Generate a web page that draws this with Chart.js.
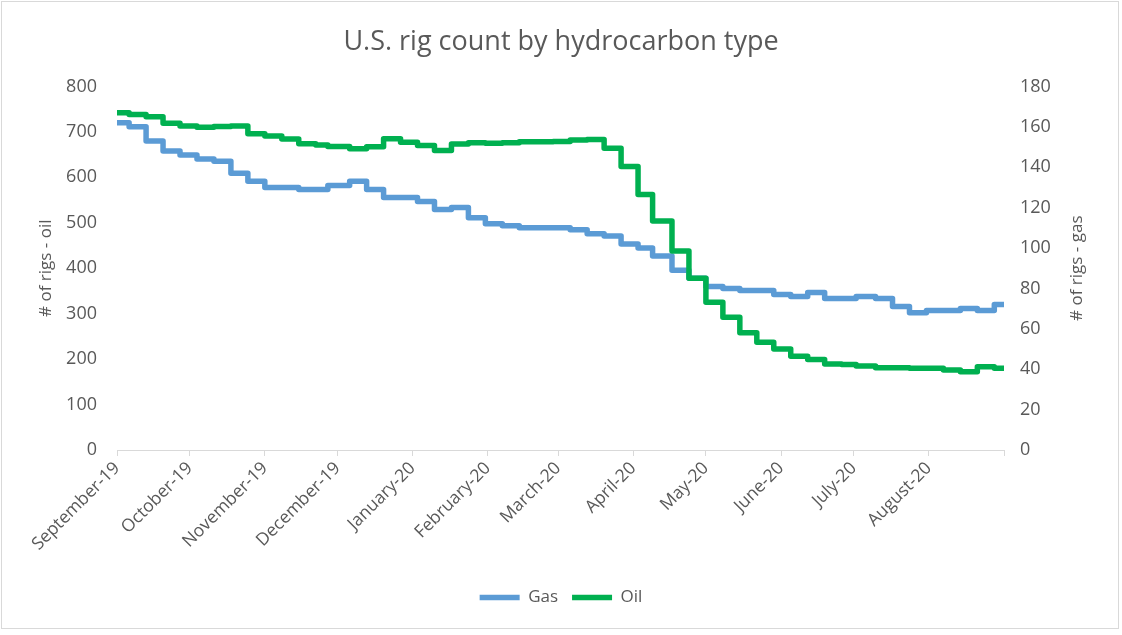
<!DOCTYPE html>
<html lang="en">
<head>
  <meta charset="UTF-8">
  <title>U.S. rig count by hydrocarbon type</title>
  <script src="https://cdn.jsdelivr.net/npm/chart.js"></script>
  <style>
    body { margin: 0; background: #fff; }
    #wrap { position: absolute; left: 0; top: 0; width: 1122px; height: 635px; }
    #frame {
      position: absolute; left: 1px; top: 1px; width: 1116px; height: 626px;
      border: 1px solid #d9d9d9; pointer-events: none;
    }
  </style>
</head>
<body>
  <div id="wrap"><canvas id="rigChart"></canvas></div>
  <div id="frame"></div>

  <script>
    // weekly Baker Hughes report dates
    const reportDates = [
      '2019-08-30','2019-09-06','2019-09-13','2019-09-20','2019-09-27',
      '2019-10-04','2019-10-11','2019-10-18','2019-10-25',
      '2019-11-01','2019-11-08','2019-11-15','2019-11-22','2019-11-27',
      '2019-12-06','2019-12-13','2019-12-20','2019-12-27',
      '2020-01-03','2020-01-10','2020-01-17','2020-01-24','2020-01-31',
      '2020-02-07','2020-02-14','2020-02-21','2020-02-28',
      '2020-03-06','2020-03-13','2020-03-20','2020-03-27',
      '2020-04-03','2020-04-09','2020-04-17','2020-04-24',
      '2020-05-01','2020-05-08','2020-05-15','2020-05-22','2020-05-29',
      '2020-06-05','2020-06-12','2020-06-19','2020-06-26',
      '2020-07-02','2020-07-10','2020-07-17','2020-07-24','2020-07-31',
      '2020-08-07','2020-08-14','2020-08-21','2020-08-28','2020-09-04'
    ];
    const oilRigs = [
      742, 738, 733, 719, 713,
      710, 712, 713, 696,
      691, 684, 674, 671, 668,
      663, 667, 685, 677,
      670, 659, 673, 676, 675,
      676, 678, 678, 679,
      682, 683, 664, 624,
      562, 504, 438, 378,
      325, 292, 258, 237, 222,
      206, 199, 189, 188,
      185, 181, 181, 180, 180,
      176, 172, 183, 180, 180
    ];
    const gasRigs = [
      162, 160, 153, 148, 146,
      144, 143, 137, 133,
      130, 130, 129, 129, 131,
      133, 129, 125, 125,
      123, 119, 120, 115, 112,
      111, 110, 110, 110,
      109, 107, 106, 102,
      100, 96, 89, 85,
      81, 80, 79, 79, 77,
      76, 78, 75, 75,
      76, 75, 71, 68, 69,
      69, 70, 69, 72, 72
    ];
    const monthTicks = [
      '2019-09-01','2019-10-01','2019-11-01','2019-12-01','2020-01-01','2020-02-01',
      '2020-03-01','2020-04-01','2020-05-01','2020-06-01','2020-07-01','2020-08-01','2020-09-01'
    ];
    const monthLabels = [
      'September-19','October-19','November-19','December-19','January-20','February-20',
      'March-20','April-20','May-20','June-20','July-20','August-20',''
    ];
    const oilTicks = [0, 100, 200, 300, 400, 500, 600, 700, 800];
    const gasTicks = [0, 20, 40, 60, 80, 100, 120, 140, 160, 180];

    const start = Date.UTC(2019, 8, 1);
    const dayOf = s => {
      const [y, m, d] = s.split('-').map(Number);
      return Math.round((Date.UTC(y, m - 1, d) - start) / 864e5);
    };
    const tickDays = monthTicks.map(dayOf);

    const grey = '#595959';
    const font = 'Open Sans, sans-serif';

    // right-hand title reads bottom-to-top like the left one
    const rightTitle = {
      id: 'rightTitle',
      afterDraw(chart) {
        const ctx = chart.ctx;
        const a = chart.chartArea;
        ctx.save();
        ctx.translate(1077, (a.top + a.bottom) / 2);
        ctx.rotate(-Math.PI / 2);
        ctx.font = '17px ' + font;
        ctx.fillStyle = grey;
        ctx.textAlign = 'center';
        ctx.textBaseline = 'middle';
        ctx.fillText('# of rigs - gas', 0, 0);
        ctx.restore();
      }
    };

    new Chart(document.getElementById('rigChart'), {
      type: 'line',
      data: {
        datasets: [
          {
            label: 'Oil',
            data: reportDates.map((d, i) => ({ x: dayOf(d), y: oilRigs[i] })),
            borderColor: '#00B050',
            backgroundColor: '#00B050',
            borderWidth: 5.5,
            stepped: true,
            pointRadius: 0,
            borderJoinStyle: 'round',
            clip: 0,
            yAxisID: 'y'
          },
          {
            label: 'Gas',
            data: reportDates.map((d, i) => ({ x: dayOf(d), y: gasRigs[i] })),
            borderColor: '#5B9BD5',
            backgroundColor: '#5B9BD5',
            borderWidth: 5.5,
            stepped: true,
            pointRadius: 0,
            borderJoinStyle: 'round',
            clip: 0,
            yAxisID: 'y1'
          }
        ]
      },
      options: {
        responsive: true,
        maintainAspectRatio: false,
        animation: false,
        layout: { padding: { left: 0, right: 0, top: 0, bottom: 19 } },
        plugins: {
          title: {
            display: true,
            text: 'U.S. rig count by hydrocarbon type',
            color: grey,
            font: { family: font, size: 27, weight: 'normal' },
            padding: { top: 26, bottom: 28 }
          },
          legend: {
            position: 'bottom',
            reverse: true,
            labels: {
              color: grey,
              font: { family: font, size: 17 },
              usePointStyle: true,
              pointStyle: 'line',
              pointStyleWidth: 40,
              padding: 14
            }
          },
          tooltip: { enabled: false }
        },
        scales: {
          x: {
            type: 'linear',
            min: tickDays[0],
            max: tickDays[tickDays.length - 1],
            afterBuildTicks: s => { s.ticks = tickDays.map(v => ({ value: v })); },
            afterFit: s => { s.height = 125; },
            grid: { drawOnChartArea: false, color: '#d9d9d9', tickLength: 6 },
            border: { color: '#d9d9d9' },
            ticks: {
              color: grey,
              font: { family: font, size: 17.5 },
              minRotation: 45,
              maxRotation: 45,
              autoSkip: false,
              padding: 2,
              callback: (v, i) => monthLabels[i]
            }
          },
          y: {
            position: 'left',
            min: 0,
            max: 800,
            afterBuildTicks: s => { s.ticks = oilTicks.map(v => ({ value: v })); },
            afterFit: s => { s.width = 117; },
            grid: { display: false, drawTicks: false },
            border: { display: false },
            ticks: { color: grey, font: { family: font, size: 18 }, padding: 20 },
            title: {
              display: true,
              text: '# of rigs - oil',
              color: grey,
              font: { family: font, size: 17 },
              padding: { top: 36 }
            }
          },
          y1: {
            position: 'right',
            min: 0,
            max: 180,
            afterBuildTicks: s => { s.ticks = gasTicks.map(v => ({ value: v })); },
            afterFit: s => { s.width = 118; },
            grid: { display: false, drawTicks: false },
            border: { display: false },
            ticks: { color: grey, font: { family: font, size: 18 }, padding: 16 }
          }
        }
      },
      plugins: [rightTitle]
    });
  </script>
</body>
</html>
